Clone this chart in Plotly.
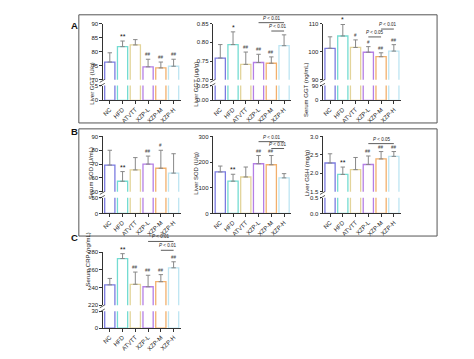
import plotly.graph_objects as go

# ---------------- data ----------------
groups = ["NC", "HFD", "ATVTT", "XZP-L", "XZP-M", "XZP-H"]

liver_ggt_ug_mean = [76.3, 81.8, 82.4, 74.6, 74.2, 74.8]
liver_ggt_ug_err = [3.3, 2.0, 1.9, 2.7, 2.1, 2.5]
liver_ggt_ug_marks = ["", "**", "", "##", "##", "##"]

liver_ggt_mg_mean = [0.758, 0.794, 0.741, 0.746, 0.744, 0.791]
liver_ggt_mg_err = [0.036, 0.034, 0.033, 0.022, 0.017, 0.029]
liver_ggt_mg_marks = ["", "*", "##", "##", "##", ""]

serum_ggt_mean = [101.2, 105.6, 101.5, 99.8, 98.2, 100.2]
serum_ggt_err = [4.1, 4.1, 2.7, 2.0, 1.4, 2.3]
serum_ggt_marks = ["", "*", "#", "#", "##", "##"]

serum_sod_mean = [69.3, 57.6, 65.8, 70.0, 67.0, 63.5]
serum_sod_err = [10.7, 7.0, 8.9, 5.8, 13.0, 14.0]
serum_sod_marks = ["", "**", "", "##", "#", ""]

liver_sod_mean = [161.5, 125.6, 142.0, 193.6, 189.7, 138.5]
liver_sod_err = [23.1, 27.0, 38.8, 32.0, 35.9, 16.5]
liver_sod_marks = ["", "**", "", "##", "##", ""]

liver_gsh_mean = [2.28, 1.97, 2.10, 2.24, 2.39, 2.46]
liver_gsh_err = [0.25, 0.20, 0.33, 0.23, 0.20, 0.13]
liver_gsh_marks = ["", "**", "", "##", "##", "##"]

serum_crp_mean = [243.0, 272.7, 243.6, 240.8, 246.5, 262.2]
serum_crp_err = [7.2, 5.5, 13.8, 13.0, 8.0, 6.8]
serum_crp_marks = ["", "**", "##", "##", "##", "##"]

# ---------------- style / layout ----------------
colors = ["#7b7be0", "#74dcd2", "#e3d49a", "#b47ee6", "#f2b06c", "#bde5f2"]
W, H = 474, 359
FONT = "Liberation Sans, Arial, sans-serif"


def fx(p):
    return p / W


def fy(p):
    return 1 - p / H


charts = [
    dict(title="Liver GGT (U/g)", mean=liver_ggt_ug_mean, err=liver_ggt_ug_err,
         marks=liver_ggt_ug_marks, ax=102, toff=16.5,
         up=dict(rng=[70, 90], tv=[70, 75, 80, 85, 90], tt=None, px=(21, 78)),
         lo=dict(rng=[0, 5], tv=[0, 5], tt=None, px=(84, 99)),
         br=[]),
    dict(title="Liver GGT (μg/g)", mean=liver_ggt_mg_mean, err=liver_ggt_mg_err,
         marks=liver_ggt_mg_marks, ax=212.7, toff=18,
         up=dict(rng=[0.70, 0.85], tv=[0.70, 0.75, 0.80, 0.85],
                 tt=["0.70", "0.75", "0.80", "0.85"], px=(21, 78)),
         lo=dict(rng=[0, 0.05], tv=[0, 0.05], tt=["0.00", "0.05"], px=(84, 99)),
         br=[(3, 5, "<i>P</i> &lt; 0.01", 20), (4, 5, "<i>P</i> &lt; 0.01", 28.5)]),
    dict(title="Serum GGT (ng/mL)", mean=serum_ggt_mean, err=serum_ggt_err,
         marks=serum_ggt_marks, ax=322.7, toff=17.5,
         up=dict(rng=[90, 110], tv=[90, 100, 110], tt=None, px=(21, 78)),
         lo=dict(rng=[0, 90], tv=[0, 90], tt=None, px=(84, 99)),
         br=[(4, 5, "<i>P</i> &lt; 0.01", 26.5), (3, 4, "<i>P</i> &lt; 0.05", 34.5)]),
    dict(title="Serum SOD (U/mL)", mean=serum_sod_mean, err=serum_sod_err,
         marks=serum_sod_marks, ax=102, toff=16.5,
         up=dict(rng=[50, 90], tv=[50, 60, 70, 80, 90], tt=None, px=(135.7, 192)),
         lo=dict(rng=[0, 50], tv=[0, 50], tt=None, px=(198, 214)),
         br=[]),
    dict(title="Liver SOD (U/g)", mean=liver_sod_mean, err=liver_sod_err,
         marks=liver_sod_marks, ax=212.7, toff=17.5,
         up=None,
         lo=dict(rng=[0, 300], tv=[0, 100, 200, 300], tt=None, px=(135.7, 214)),
         br=[(3, 5, "<i>P</i> &lt; 0.01", 141), (4, 5, "<i>P</i> &lt; 0.01", 148)]),
    dict(title="Liver GSH (mg/g)", mean=liver_gsh_mean, err=liver_gsh_err,
         marks=liver_gsh_marks, ax=322.7, toff=16.5,
         up=dict(rng=[1.5, 3.0], tv=[1.5, 2.0, 2.5, 3.0],
                 tt=["1.5", "2.0", "2.5", "3.0"], px=(135.7, 192)),
         lo=dict(rng=[0, 0.5], tv=[0, 0.5], tt=["0.0", "0.5"], px=(198, 214)),
         br=[(3, 5, "<i>P</i> &lt; 0.05", 143)]),
    dict(title="Serum CRP (ng/mL)", mean=serum_crp_mean, err=serum_crp_err,
         marks=serum_crp_marks, ax=102, toff=19.5,
         up=dict(rng=[220, 280], tv=[220, 240, 260, 280], tt=None, px=(253.3, 307.3)),
         lo=dict(rng=[0, 30], tv=[0, 30], tt=None, px=(313.5, 330.7)),
         br=[(3, 5, "<i>P</i> &lt; 0.01", 242.5), (4, 5, "<i>P</i> &lt; 0.01", 251.5)]),
]

XW = 78  # x-axis pixel width
XR = [-0.55, 5.55]
xs = list(range(len(groups)))

fig = go.Figure()
layout = dict(width=W, height=H, margin=dict(l=0, r=0, t=0, b=0),
              paper_bgcolor="white", plot_bgcolor="rgba(0,0,0,0)",
              showlegend=False, font=dict(family=FONT, size=6, color="#222"))
shapes = []
annotations = []

axis_common = dict(showgrid=False, zeroline=False, showline=True,
                   linecolor="#333", linewidth=1, ticks="outside", ticklen=2.5,
                   tickwidth=1, tickcolor="#333",
                   tickfont=dict(size=6, family=FONT, color="#222"))

yi = 0
for k, c in enumerate(charts, start=1):
    xid = "x" if k == 1 else f"x{k}"
    xkey = "xaxis" if k == 1 else f"xaxis{k}"
    ax = c["ax"]
    segs = [c["lo"]] + ([c["up"]] if c["up"] else [])
    yids = []
    for s in segs:
        yi += 1
        yid = "y" if yi == 1 else f"y{yi}"
        ykey = "yaxis" if yi == 1 else f"yaxis{yi}"
        yids.append(yid)
        ya = dict(axis_common)
        ya.update(domain=[fy(s["px"][1]), fy(s["px"][0])], range=s["rng"],
                  anchor=xid, tickvals=s["tv"], fixedrange=True)
        if s["tt"]:
            ya["ticktext"] = s["tt"]
        layout[ykey] = ya
        fig.add_trace(go.Bar(
            x=xs, y=c["mean"], xaxis=xid, yaxis=yid, width=0.8,
            marker=dict(color="white", line=dict(color=colors, width=1.3)),
            error_y=dict(type="data", array=c["err"], arrayminus=[0] * 6,
                         symmetric=False, color="#888", thickness=1, width=2.2),
            cliponaxis=True, hoverinfo="skip"))
    lo_px = c["lo"]["px"]
    xa = dict(axis_common)
    xa.update(domain=[fx(ax), fx(ax + XW)], range=XR, anchor=yids[0],
              tickvals=xs, ticktext=groups, tickangle=-45, fixedrange=True)
    layout[xkey] = xa

    top_y = yids[-1]
    # significance marks
    for i in xs:
        if c["marks"][i]:
            star = c["marks"][i].startswith("*")
            annotations.append(dict(
                x=i, y=c["mean"][i] + c["err"][i], xref=xid, yref=top_y,
                text=c["marks"][i], showarrow=False, yanchor="bottom",
                yshift=-1 if star else 0,
                font=dict(size=7 if star else 4.5, family=FONT,
                          color="#111" if star else "#444")))
    # brackets
    for (i, j, txt, ypx) in c["br"]:
        shapes.append(dict(type="line", xref=xid, yref="paper", x0=i, x1=j,
                           y0=fy(ypx), y1=fy(ypx), line=dict(color="#333", width=0.8)))
        annotations.append(dict(x=(i + j) / 2, y=fy(ypx), xref=xid, yref="paper",
                                text=txt, showarrow=False, yanchor="bottom",
                                font=dict(size=4.5, family=FONT, color="#222")))
    # axis break marks
    if c["up"]:
        ub = c["up"]["px"][1]
        lt = lo_px[0]
        for yy in (ub + 1.5, lt - 0.5):
            shapes.append(dict(type="line", xref="paper", yref="paper",
                               x0=fx(ax - 3), x1=fx(ax + 2), y0=fy(yy + 1.2),
                               y1=fy(yy - 1.8), line=dict(color="#333", width=0.8)))
    # axis title
    top_px = c["up"]["px"][0] if c["up"] else lo_px[0]
    annotations.append(dict(x=fx(ax - c["toff"]), y=fy((top_px + lo_px[1]) / 2 - 2),
                            xref="paper", yref="paper", text=c["title"],
                            textangle=-90, showarrow=False,
                            font=dict(size=6, family=FONT, color="#222")))

# panel boxes and labels
for (x0, y0, x1, y1) in [(78, 12, 437, 122), (78, 128, 437, 237)]:
    shapes.append(dict(type="rect", xref="paper", yref="paper",
                       x0=fx(x0), x1=fx(x1), y0=fy(y1), y1=fy(y0),
                       line=dict(color="#555", width=1), fillcolor="rgba(0,0,0,0)"))
for lab, px, py in [("A", 68, 15), ("B", 68, 131), ("C", 68, 246)]:
    annotations.append(dict(x=fx(px), y=fy(py), xref="paper", yref="paper",
                            text=f"<b>{lab}</b>", showarrow=False,
                            font=dict(size=9.5, family=FONT, color="#111")))

layout["shapes"] = shapes
layout["annotations"] = annotations
fig.update_layout(**layout)
fig.write_html("out.html", config={"displayModeBar": False},
               post_script="document.body.style.margin='0';document.body.style.overflow='hidden';")
